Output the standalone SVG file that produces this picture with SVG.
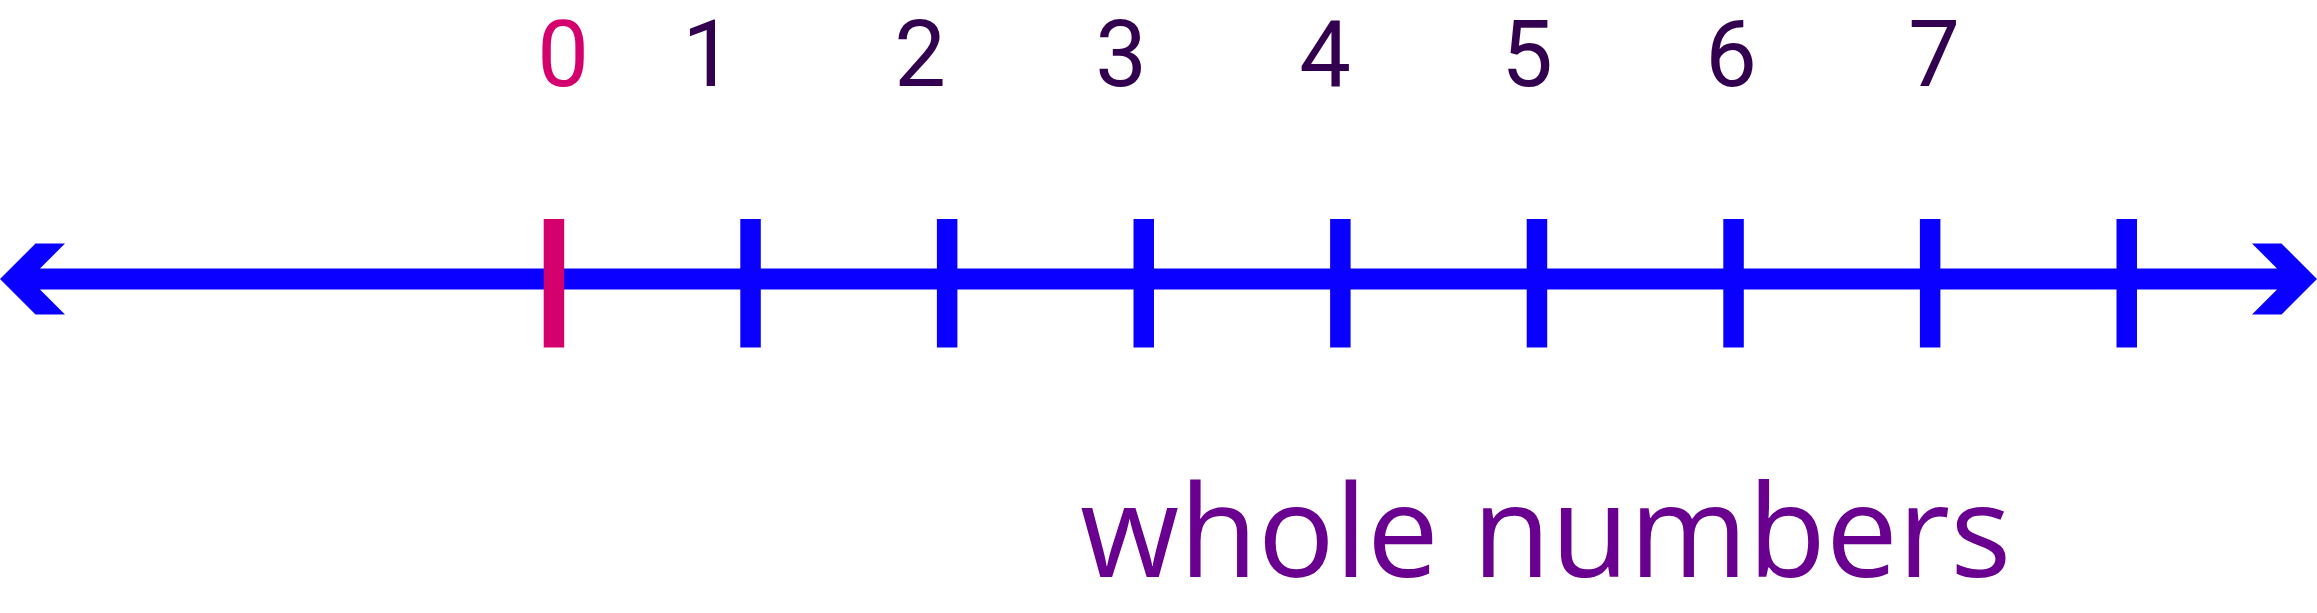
<svg xmlns="http://www.w3.org/2000/svg" width="2317" height="613" viewBox="0 0 2317 613">
<style>
.axis{fill:#0a00ff}
.tick{fill:#0a00ff}
.tick0{fill:#d4006e}
.num{font-family:Roboto,"Open Sans",sans-serif;font-size:92px;fill:#33004f;text-anchor:middle}
.num0{fill:#d4006e}
.title{font-family:"Open Sans","Noto Sans","Liberation Sans",sans-serif;font-size:128px;fill:#690090}
</style>
<rect width="2317" height="613" fill="#ffffff"/>
<g id="connectors">
<rect class="axis" x="30" y="268.5" width="2257" height="21"/>
<polygon class="axis" points="0,279 35.5,243.5 65,243.5 40,268.5 40,289.5 65,314.5 35.5,314.5"/>
<polygon class="axis" points="2317,279 2281.5,243.5 2252,243.5 2277,268.5 2277,289.5 2252,314.5 2281.5,314.5"/>
</g>
<g id="tick-1"><rect class="tick" x="740.3" y="219" width="20.5" height="128.5"/><text class="num" x="708" y="85.5">1</text></g>
<g id="tick-2"><rect class="tick" x="936.9" y="219" width="20.5" height="128.5"/><text class="num" x="920" y="85.5">2</text></g>
<g id="tick-3"><rect class="tick" x="1133.5" y="219" width="20.5" height="128.5"/><text class="num" x="1121" y="85.5">3</text></g>
<g id="tick-4"><rect class="tick" x="1330.1" y="219" width="20.5" height="128.5"/><text class="num" x="1325" y="85.5">4</text></g>
<g id="tick-5"><rect class="tick" x="1526.7" y="219" width="20.5" height="128.5"/><text class="num" x="1527" y="85.5">5</text></g>
<g id="tick-6"><rect class="tick" x="1723.3" y="219" width="20.5" height="128.5"/><text class="num" x="1731" y="85.5">6</text></g>
<g id="tick-7"><rect class="tick" x="1919.9" y="219" width="20.5" height="128.5"/><text class="num" x="1934" y="85.5">7</text></g>
<g id="tick-8"><rect class="tick" x="2116.5" y="219" width="20.5" height="128.5"/></g>
<g id="tick-0"><rect class="tick0" x="543.7" y="219" width="20.5" height="128.5"/><text class="num num0" x="563" y="85.5">0</text></g>
<g id="title"><text class="title" x="1080" y="577">whole numbers</text></g>
</svg>
